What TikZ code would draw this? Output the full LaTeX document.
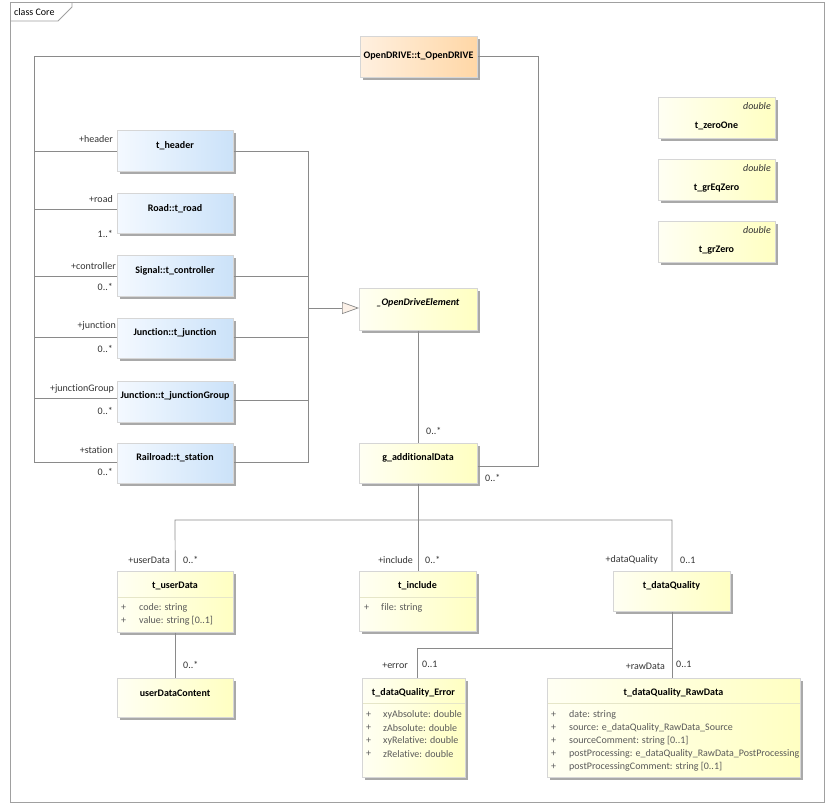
\documentclass[tikz,border=0pt]{standalone}
\usepackage{fontspec}
\setmainfont{Carlito}[Ligatures={NoCommon}]
\usetikzlibrary{shadows,arrows.meta}
\definecolor{blueL}{HTML}{F4F9FF}
\definecolor{blueR}{HTML}{CBE2F9}
\definecolor{yelL}{HTML}{FFFFF3}
\definecolor{yelR}{HTML}{FFFFC2}
\definecolor{orL}{HTML}{FFF0E0}
\definecolor{orR}{HTML}{FFD7A6}
\definecolor{shadowc}{HTML}{A9A9A9}
\definecolor{boxborder}{HTML}{D6D6D6}
\definecolor{linec}{HTML}{8A8A8A}
\definecolor{framec}{HTML}{A0A0A0}
\definecolor{labc}{HTML}{333333}
\definecolor{attc}{HTML}{5A5A5A}
\definecolor{divc}{HTML}{E6E6C8}
\definecolor{trifill}{HTML}{FCF1E8}
\tikzset{
  clsbox/.style={draw=boxborder, line width=0.5pt, anchor=north west, inner sep=0pt,
    drop shadow={shadow xshift=3pt, shadow yshift=-3pt, fill=shadowc, opacity=1}},
  bluebox/.style={clsbox, left color=blueL, right color=blueR},
  yelbox/.style={clsbox, left color=yelL, right color=yelR},
  orbox/.style={clsbox, left color=orL, right color=orR},
  nm/.style={font=\fontsize{10}{12}\selectfont\bfseries, inner sep=0pt, text=black},
  rl/.style={font=\fontsize{10}{12}\selectfont, anchor=east, inner sep=0pt, text=labc},
  ml/.style={font=\fontsize{10}{12}\selectfont, anchor=west, inner sep=0pt, text=labc},
  att/.style={font=\fontsize{10}{12}\selectfont, anchor=west, inner sep=0pt, text=attc},
  conn/.style={draw=linec, line width=0.7pt},
  divline/.style={draw=divc, line width=0.6pt}
}
\begin{document}
\begin{tikzpicture}[x=1pt,y=-1pt]
\useasboundingbox (0,0) rectangle (836,806);
% frame
\draw[framec, line width=0.8pt] (10,2) rectangle (824,802);
\draw[framec, line width=0.8pt] (10,21) -- (58,21) -- (72,7) -- (72,2);
\node[anchor=west, inner sep=0pt, font=\fontsize{10}{12}\selectfont] (title) at (14,12) {class Core};

% boxes
\node[orbox, minimum width=117pt, minimum height=41pt] (od) at (360,36) {};
\node[nm] (odT) at (418.5,56) {OpenDRIVE::t\_OpenDRIVE};

\node[bluebox, minimum width=116pt, minimum height=41pt] (hdr) at (117,130) {};
\node[nm] (hdrT) at (175,146) {t\_header};
\node[bluebox, minimum width=116pt, minimum height=40pt] (road) at (117,193) {};
\node[nm] (roadT) at (175,209) {Road::t\_road};
\node[bluebox, minimum width=116pt, minimum height=41pt] (ctrl) at (117,255) {};
\node[nm] (ctrlT) at (175,271) {Signal::t\_controller};
\node[bluebox, minimum width=116pt, minimum height=40pt] (junc) at (117,318) {};
\node[nm] (juncT) at (175,333) {Junction::t\_junction};
\node[bluebox, minimum width=116pt, minimum height=41pt] (jg) at (117,381) {};
\node[nm] (jgT) at (175,396) {Junction::t\_junctionGroup};
\node[bluebox, minimum width=116pt, minimum height=40pt] (sta) at (117,443) {};
\node[nm] (staT) at (175,458) {Railroad::t\_station};

\node[yelbox, minimum width=117pt, minimum height=41pt] (zo) at (658,97) {};
\node[rl, font=\fontsize{10}{12}\selectfont\itshape] (zoS) at (771,106) {double};
\node[nm] (zoT) at (716.5,126) {t\_zeroOne};
\node[yelbox, minimum width=117pt, minimum height=41pt] (ge) at (658,159) {};
\node[rl, font=\fontsize{10}{12}\selectfont\itshape] (geS) at (771,168) {double};
\node[nm] (geT) at (716.5,188) {t\_grEqZero};
\node[yelbox, minimum width=117pt, minimum height=41pt] (gz) at (658,221) {};
\node[rl, font=\fontsize{10}{12}\selectfont\itshape] (gzS) at (771,230) {double};
\node[nm] (gzT) at (716.5,250) {t\_grZero};

\node[yelbox, minimum width=118pt, minimum height=42pt] (ode) at (359,288) {};
\node[nm, font=\fontsize{10}{12}\selectfont\bfseries\itshape] (odeT) at (418,303) {\_OpenDriveElement};
\node[yelbox, minimum width=118pt, minimum height=40pt] (gad) at (359,443) {};
\node[nm] (gadT) at (418,458) {g\_additionalData};

\node[yelbox, minimum width=116pt, minimum height=61pt] (ud) at (117,571) {};
\node[nm] (udT) at (175,586) {t\_userData};
\draw[divline] (117.5,597) -- (232.5,597);
\node[att] (udA1) at (121,608) {+};
\node[att] (udB1) at (139,608) {code: string};
\node[att] (udA2) at (121,621) {+};
\node[att] (udB2) at (139,621) {value: string [0..1]};

\node[yelbox, minimum width=117pt, minimum height=60pt] (inc) at (359,571) {};
\node[nm] (incT) at (417.5,586) {t\_include};
\draw[divline] (359.5,597) -- (475.5,597);
\node[att] (incA1) at (364,608) {+};
\node[att] (incB1) at (381,608) {file: string};

\node[yelbox, minimum width=117pt, minimum height=40pt] (dq) at (613,571) {};
\node[nm] (dqT) at (671.5,586) {t\_dataQuality};

\node[yelbox, minimum width=116pt, minimum height=39pt] (udc) at (117,678) {};
\node[nm] (udcT) at (175,693) {userDataContent};

\node[yelbox, minimum width=103pt, minimum height=99pt] (err) at (362,678) {};
\node[nm] (errT) at (413.5,693) {t\_dataQuality\_Error};
\draw[divline] (362.5,703) -- (464.5,703);
\node[att] (errA1) at (366,715) {+};
\node[att] (errB1) at (383,715) {xyAbsolute: double};
\node[att] (errA2) at (366,728) {+};
\node[att] (errB2) at (383,728) {zAbsolute: double};
\node[att] (errA3) at (366,741) {+};
\node[att] (errB3) at (383,741) {xyRelative: double};
\node[att] (errA4) at (366,754) {+};
\node[att] (errB4) at (383,754) {zRelative: double};

\node[yelbox, minimum width=253pt, minimum height=99pt] (raw) at (547,678) {};
\node[nm] (rawT) at (673.5,693) {t\_dataQuality\_RawData};
\draw[divline] (547.5,703) -- (799.5,703);
\node[att] (rawA1) at (551,715) {+};
\node[att] (rawB1) at (569,715) {date: string};
\node[att] (rawA2) at (551,728) {+};
\node[att] (rawB2) at (569,728) {source: e\_dataQuality\_RawData\_Source};
\node[att] (rawA3) at (551,741) {+};
\node[att] (rawB3) at (569,741) {sourceComment: string [0..1]};
\node[att] (rawA4) at (551,754) {+};
\node[att] (rawB4) at (569,754) {postProcessing: e\_dataQuality\_RawData\_PostProcessing};
\node[att] (rawA5) at (551,767) {+};
\node[att] (rawB5) at (569,767) {postProcessingComment: string [0..1]};

% left composition tree
\coordinate (LT) at (34,56);
\coordinate (Lh) at (34,151);
\coordinate (Lr) at (34,209);
\coordinate (Lc) at (34,276);
\coordinate (Lj) at (34,337);
\coordinate (Lg) at (34,398);
\coordinate (Ls) at (34,462);
\draw[conn] (od.west |- LT) -- (LT) -- (Ls) -- (sta.west |- Ls);
\draw[conn] (Lh) -- (hdr.west |- Lh);
\draw[conn] (Lr) -- (road.west |- Lr);
\draw[conn] (Lc) -- (ctrl.west |- Lc);
\draw[conn] (Lj) -- (junc.west |- Lj);
\draw[conn] (Lg) -- (jg.west |- Lg);

% right generalization tree
\coordinate (Rh) at (308,151);
\coordinate (Rc) at (308,276);
\coordinate (Rj) at (308,337);
\coordinate (Rg) at (308,400);
\coordinate (Rs) at (308,462);
\coordinate (G) at (308,308);
\draw[conn] (hdr.east |- Rh) -- (Rh) -- (Rs) -- (sta.east |- Rs);
\draw[conn] (ctrl.east |- Rc) -- (Rc);
\draw[conn] (junc.east |- Rj) -- (Rj);
\draw[conn] (jg.east |- Rg) -- (Rg);
\draw[conn, -{Triangle[length=17pt, width=12pt, fill=trifill, line width=0.7pt]}] (G) -- (ode.west |- G);

% labels left
\node[rl] (lh1) at (113,139) {+header};
\node[rl] (lr1) at (113,199) {+road};
\node[rl] (lr2) at (113,234) {1..*};
\node[rl] (lc1) at (116,266) {+controller};
\node[rl] (lc2) at (113,287) {0..*};
\node[rl] (lj1) at (116,326) {+junction};
\node[rl] (lj2) at (113,349) {0..*};
\node[rl] (lg1) at (114,389) {+junctionGroup};
\node[rl] (lg2) at (113,411) {0..*};
\node[rl] (ls1) at (113,450) {+station};
\node[rl] (ls2) at (113,472) {0..*};

% OpenDriveElement - additionalData
\draw[conn] (ode.south) -- (gad.north);
\node[ml] (m1) at (426,431) {0..*};
\coordinate (R1) at (538,466);
\coordinate (R2) at (538,56);
\draw[conn] (gad.east |- R1) -- (R1) -- (R2) -- (od.east |- R2);
\node[ml] (m2) at (485,478) {0..*};

% bottom tree
\coordinate (B1) at (175,520);
\coordinate (B2) at (672,520);
\draw[conn] (gad.south) -- (gad.south |- inc.north);
\draw[conn] (ud.north) -- (B1) -- (B2) -- (B2 |- dq.north);
\node[rl] (b1) at (170,560) {+userData};
\node[ml] (b2) at (183,560) {0..*};
\node[rl] (b3) at (413,560) {+include};
\node[ml] (b4) at (425,560) {0..*};
\node[rl] (b5) at (658,560) {+dataQuality};
\node[ml] (b6) at (680,560) {0..1};

\draw[conn] (ud.south) -- (udc.north);
\node[ml] (b7) at (183,665) {0..*};

\coordinate (C1) at (417,648);
\coordinate (C2) at (672,648);
\draw[conn] (dq.south -| C2) -- (C2 |- raw.north);
\draw[conn] (C2) -- (C1) -- (C1 |- err.north);
\node[rl] (c1) at (408,666) {+error};
\node[ml] (c2) at (422,664) {0..1};
\node[rl] (c3) at (665,666) {+rawData};
\node[ml] (c4) at (676,664) {0..1};
\end{tikzpicture}
\end{document}
